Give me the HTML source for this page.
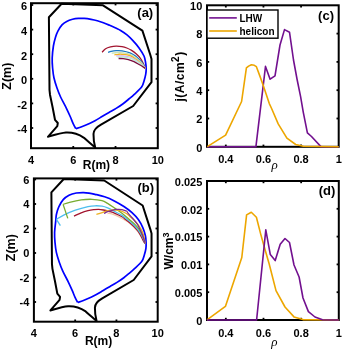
<!DOCTYPE html>
<html><head><meta charset="utf-8"><style>
html,body{margin:0;padding:0;background:#fff;width:342px;height:350px;overflow:hidden;}
svg{display:block;filter:blur(0.3px);font-family:"Liberation Sans",sans-serif;}
</style></head><body>
<svg width="342" height="350" viewBox="0 0 342 350">
<rect width="342" height="350" fill="#fff"/>
<path d="M48.9 17.3 L61.6 3.8 L103 5.3 L142.4 30.6 L150.2 54.5 L151.5 59 L151.5 82.2 L133.2 106 L101 124.6 C97 126.8 93.6 129.5 93.5 134 C93.4 139 94 143 95.2 147.6 C92 144.5 88 141.5 84 137.8 C79 134.5 72 132.3 66 132.6 C61 133 56 134.5 47.9 136.8 L57.3 126.1 L57.8 123 L55 119.8 L52.6 107.3 L50 94.7 L49.5 90 Z" fill="none" stroke="#000" stroke-width="2" stroke-linejoin="round"/>
<path d="M75.9 128.7 C76.87 128.37 79.43 127.57 81.7 126.7 C83.97 125.83 87.28 124.5 89.5 123.5 C91.72 122.5 92.92 121.85 95 120.7 C97.08 119.55 99.67 117.97 102 116.6 C104.33 115.23 106.65 113.87 109 112.5 C111.35 111.13 113.75 109.87 116.1 108.4 C118.45 106.93 120.97 105.27 123.1 103.7 C125.23 102.13 127.03 100.57 128.9 99 C130.77 97.43 132.18 96.28 134.3 94.3 C136.42 92.32 139.97 89.37 141.6 87.1 C143.23 84.83 143.42 82.83 144.1 80.7 C144.78 78.57 145.35 76.23 145.7 74.3 C146.05 72.37 146.22 71.03 146.2 69.1 C146.18 67.17 145.97 64.88 145.6 62.7 C145.23 60.52 145.15 58.55 144 56 C142.85 53.45 140.55 49.97 138.7 47.4 C136.85 44.83 134.85 42.68 132.9 40.6 C130.95 38.52 129.05 36.58 127 34.9 C124.95 33.22 122.48 31.63 120.6 30.5 C118.72 29.37 117.53 28.97 115.7 28.1 C113.87 27.23 111.65 26.2 109.6 25.3 C107.55 24.4 105.45 23.47 103.4 22.7 C101.35 21.93 99.35 21.27 97.3 20.7 C95.25 20.13 93.28 19.68 91.1 19.3 C88.92 18.92 86.32 18.55 84.2 18.4 C82.08 18.25 80.35 18.25 78.4 18.4 C76.45 18.55 74.45 18.8 72.5 19.3 C70.55 19.8 68.45 20.47 66.7 21.4 C64.95 22.33 63.47 23.28 62 24.9 C60.53 26.52 58.98 29.05 57.9 31.1 C56.82 33.15 56.25 34.72 55.5 37.2 C54.75 39.68 53.95 42.53 53.4 46 C52.85 49.47 52.33 54.33 52.2 58 C52.07 61.67 52.3 64.67 52.6 68 C52.9 71.33 53.27 74.67 54 78 C54.73 81.33 55.9 84.83 57 88 C58.1 91.17 59.05 93.65 60.6 97 C62.15 100.35 64.7 104.85 66.3 108.1 C67.9 111.35 69.02 113.82 70.2 116.5 C71.38 119.18 72.45 122.17 73.4 124.2 C74.35 126.23 75.48 127.95 75.9 128.7" fill="none" stroke="#0000ff" stroke-width="1.7"/>
<path d="M102.1 52.2 C102.68 51.62 104.2 49.58 105.6 48.7 C107 47.82 108.75 47.33 110.5 46.9 C112.25 46.47 114.18 46.15 116.1 46.1 C118.02 46.05 120.22 46.28 122 46.6 C123.78 46.92 125.2 47.37 126.8 48 C128.4 48.63 130 49.4 131.6 50.4 C133.2 51.4 134.93 52.67 136.4 54 C137.87 55.33 139.27 56.87 140.4 58.4 C141.53 59.93 142.37 61.53 143.2 63.2 C144.03 64.87 145.03 67.53 145.4 68.4" fill="none" stroke="#a2142f" stroke-width="1.3"/>
<path d="M108.1 52.4 C108.62 52.22 109.87 51.6 111.2 51.3 C112.53 51 114.3 50.68 116.1 50.6 C117.9 50.52 119.68 50.43 122 50.8 C124.32 51.17 127.73 51.93 130 52.8 C132.27 53.67 133.87 54.67 135.6 56 C137.33 57.33 139.1 59.38 140.4 60.8 C141.7 62.22 142.57 63.23 143.4 64.5 C144.23 65.77 145.07 67.75 145.4 68.4" fill="none" stroke="#1a78c2" stroke-width="1.3"/>
<path d="M111.6 53.2 C112.58 53.08 115.57 52.55 117.5 52.5 C119.43 52.45 121.12 52.6 123.2 52.9 C125.28 53.2 127.87 53.45 130 54.3 C132.13 55.15 134.17 56.63 136 58 C137.83 59.37 139.43 60.77 141 62.5 C142.57 64.23 144.67 67.42 145.4 68.4" fill="none" stroke="#c8e4b4" stroke-width="1.3"/>
<path d="M114.4 54.8 C115.03 54.72 116.93 54.38 118.2 54.3 C119.47 54.22 120.03 54.08 122 54.3 C123.97 54.52 127.6 54.72 130 55.6 C132.4 56.48 134.53 58.2 136.4 59.6 C138.27 61 139.7 62.53 141.2 64 C142.7 65.47 144.7 67.67 145.4 68.4" fill="none" stroke="#f2b420" stroke-width="1.3"/>
<path d="M116.1 55.9 C117.28 55.92 120.88 55.82 123.2 56 C125.52 56.18 127.78 56.25 130 57 C132.22 57.75 134.58 59.25 136.5 60.5 C138.42 61.75 140.02 63.18 141.5 64.5 C142.98 65.82 144.75 67.75 145.4 68.4" fill="none" stroke="#d8b0ec" stroke-width="1.3"/>
<path d="M117.5 57.1 C118.45 57.1 121.12 56.92 123.2 57.1 C125.28 57.28 127.7 57.47 130 58.2 C132.3 58.93 135 60.33 137 61.5 C139 62.67 140.6 64.05 142 65.2 C143.4 66.35 144.83 67.87 145.4 68.4" fill="none" stroke="#b8f0d8" stroke-width="1.3"/>
<path d="M118.6 58.5 C119.37 58.53 121.57 58.52 123.2 58.7 C124.83 58.88 126.6 59.12 128.4 59.6 C130.2 60.08 132.13 60.73 134 61.6 C135.87 62.47 137.7 63.67 139.6 64.8 C141.5 65.93 144.43 67.8 145.4 68.4" fill="none" stroke="#7a0c3c" stroke-width="1.3"/>
<path d="M51.38 192.33 L63.78 178.99 L104.2 180.48 L142.66 205.48 L150.28 229.1 L151.55 233.55 L151.55 256.47 L133.68 279.99 L102.24 298.38 C98.34 300.55 95.02 303.22 94.92 307.67 C94.82 312.61 95.41 316.56 96.58 321.11 C93.46 318.04 89.55 315.08 85.65 311.42 C80.76 308.16 73.93 305.99 68.07 306.28 C63.19 306.68 58.31 308.16 50.4 310.43 L59.58 299.86 L60.07 296.8 L57.33 293.63 L54.99 281.28 L52.45 268.83 L51.96 264.18 Z" fill="none" stroke="#000" stroke-width="2" stroke-linejoin="round"/>
<path d="M77.74 302.43 C78.68 302.1 81.19 301.31 83.4 300.45 C85.61 299.6 88.85 298.28 91.02 297.29 C93.18 296.3 94.35 295.66 96.39 294.52 C98.42 293.39 100.94 291.82 103.22 290.47 C105.5 289.12 107.76 287.77 110.05 286.42 C112.35 285.07 114.69 283.82 116.99 282.37 C119.28 280.92 121.74 279.27 123.82 277.72 C125.9 276.17 127.66 274.63 129.48 273.08 C131.31 271.53 132.69 270.39 134.76 268.43 C136.82 266.47 140.29 263.56 141.88 261.32 C143.48 259.08 143.66 257.1 144.32 254.99 C144.99 252.88 145.59 250.73 145.89 248.67 C146.18 246.6 146.18 244.76 146.1 242.6 C146.02 240.44 145.95 238.2 145.4 235.7 C144.85 233.2 143.95 230.27 142.8 227.6 C141.65 224.93 140.3 222.2 138.5 219.7 C136.7 217.2 134.43 214.8 132 212.6 C129.57 210.4 126.85 208.45 123.9 206.5 C120.95 204.55 117.52 202.52 114.3 200.9 C111.08 199.28 107.82 197.9 104.6 196.8 C101.38 195.7 97.6 194.92 95 194.3 C92.4 193.68 90.9 193.38 89 193.1 C87.1 192.82 85.72 192.62 83.6 192.6 C81.48 192.58 78.73 192.57 76.3 193 C73.87 193.43 71.18 194.1 69 195.2 C66.82 196.3 64.9 197.65 63.2 199.6 C61.5 201.55 59.93 204.42 58.8 206.9 C57.67 209.38 56.9 212.2 56.4 214.5 C55.9 216.8 56.07 217.69 55.77 220.7 C55.47 223.71 54.73 228.93 54.6 232.56 C54.47 236.18 54.7 239.15 54.99 242.44 C55.28 245.73 55.64 249.03 56.36 252.32 C57.07 255.62 58.21 259.08 59.28 262.21 C60.36 265.34 61.29 267.79 62.8 271.1 C64.31 274.41 66.8 278.86 68.36 282.07 C69.93 285.28 71.02 287.72 72.17 290.37 C73.33 293.02 74.37 295.97 75.3 297.98 C76.22 299.99 77.33 301.69 77.74 302.43" fill="none" stroke="#0000ff" stroke-width="1.7"/>
<path d="M107.6 213.5 C108.32 213.57 109.5 213.07 111.9 213.9 C114.3 214.73 118.98 216.9 122 218.5 C125.02 220.1 127.5 221.5 130 223.5 C132.5 225.5 135 228.17 137 230.5 C139 232.83 140.68 235.33 142 237.5 C143.32 239.67 144.42 242.5 144.9 243.5" fill="none" stroke="#f4c8a8" stroke-width="1.3"/>
<path d="M74 216.1 C75.2 215.55 78.87 213.7 81.2 212.8 C83.53 211.9 85.93 211.22 88 210.7 C90.07 210.18 91.85 209.93 93.6 209.7 C95.35 209.47 96.87 209.25 98.5 209.3 C100.13 209.35 101.65 209.65 103.4 210 C105.15 210.35 107.07 210.85 109 211.4 C110.93 211.95 112.83 212.4 115 213.3 C117.17 214.2 120.17 215.72 122 216.8 C123.83 217.88 124.67 218.78 126 219.8 C127.33 220.82 128.63 221.73 130 222.9 C131.37 224.07 132.72 225.23 134.2 226.8 C135.68 228.37 137.43 230.07 138.9 232.3 C140.37 234.53 142 238.33 143 240.2 C144 242.07 144.58 242.95 144.9 243.5" fill="none" stroke="#a2142f" stroke-width="1.3"/>
<path d="M60.4 225.6 L56.4 219.3" fill="none" stroke="#4dbeee" stroke-width="1.3"/>
<path d="M56.4 219.3 C57.62 218.6 60.53 216.62 63.7 215.1 C66.87 213.58 71.35 211.6 75.4 210.2 C79.45 208.8 84.73 207.43 88 206.7 C91.27 205.97 92.67 205.88 95 205.8 C97.33 205.72 99.9 205.85 102 206.2 C104.1 206.55 105.43 207 107.6 207.9 C109.77 208.8 112.6 210.35 115 211.6 C117.4 212.85 120.17 214.27 122 215.4 C123.83 216.53 124.33 217.08 126 218.4 C127.67 219.72 130.08 221.53 132 223.3 C133.92 225.07 135.92 227.05 137.5 229 C139.08 230.95 140.42 233.08 141.5 235 C142.58 236.92 143.43 239.08 144 240.5 C144.57 241.92 144.75 243 144.9 243.5" fill="none" stroke="#4dbeee" stroke-width="1.3"/>
<path d="M67.8 218.4 L63.1 204.4" fill="none" stroke="#77ac30" stroke-width="1.3"/>
<path d="M63.1 204.4 C64.17 204.05 66.48 203.05 69.5 202.3 C72.52 201.55 77.45 200.4 81.2 199.9 C84.95 199.4 88.53 199.18 92 199.3 C95.47 199.42 99.4 199.92 102 200.6 C104.6 201.28 105.43 202.1 107.6 203.4 C109.77 204.7 112.6 206.75 115 208.4 C117.4 210.05 119.67 211.48 122 213.3 C124.33 215.12 126.77 217.37 129 219.3 C131.23 221.23 133.65 223.12 135.4 224.9 C137.15 226.68 138.32 228.23 139.5 230 C140.68 231.77 141.72 233.83 142.5 235.5 C143.28 237.17 143.8 238.67 144.2 240 C144.6 241.33 144.78 242.92 144.9 243.5" fill="none" stroke="#77ac30" stroke-width="1.3"/>
<path d="M96.4 214.4 C97.1 214.2 98.85 213.78 100.6 213.2 C102.35 212.62 104.73 211.47 106.9 210.9 C109.07 210.33 111.42 209.85 113.6 209.8 C115.78 209.75 117.88 209.98 120 210.6 C122.12 211.22 124.67 212.53 126.3 213.5 C127.93 214.47 128.28 215.08 129.8 216.4 C131.32 217.72 133.55 219.32 135.4 221.4 C137.25 223.48 139.52 226.52 140.9 228.9 C142.28 231.28 143.07 233.65 143.7 235.7 C144.33 237.75 144.5 239.9 144.7 241.2 C144.9 242.5 144.87 243.12 144.9 243.5" fill="none" stroke="#edb120" stroke-width="1.3"/>
<path d="M104.1 213.5 C104.68 213.18 106.28 212.13 107.6 211.6 C108.92 211.07 110.42 210.67 112 210.3 C113.58 209.93 115.43 209.5 117.1 209.4 C118.77 209.3 120.38 209.4 122 209.7 C123.62 210 126 210.95 126.8 211.2" fill="none" stroke="#7e2f8e" stroke-width="1.3"/>
<path d="M126.8 211.2 C127.03 211.57 127.28 212.27 128.2 213.4 C129.12 214.53 130.78 216.2 132.3 218 C133.82 219.8 136.05 222.37 137.3 224.2 C138.55 226.03 138.93 227.2 139.8 229 C140.67 230.8 141.75 233.08 142.5 235 C143.25 236.92 143.9 239.08 144.3 240.5 C144.7 241.92 144.8 243 144.9 243.5" fill="none" stroke="#7e2f8e" stroke-width="1.3"/>
<g stroke="#000" stroke-width="2.0" fill="none">
<rect x="31" y="3.2" width="126.8" height="145"/>
<rect x="33.9" y="178.4" width="123.8" height="143.3"/>
<rect x="207" y="5.3" width="131.7" height="141.5"/>
<rect x="207" y="181" width="131.8" height="139"/>
</g>
<g stroke="#000" stroke-width="1.8">
<line x1="73.27" y1="148.2" x2="73.27" y2="146"/>
<line x1="73.27" y1="3.2" x2="73.27" y2="5.4"/>
<line x1="115.53" y1="148.2" x2="115.53" y2="146"/>
<line x1="115.53" y1="3.2" x2="115.53" y2="5.4"/>
<line x1="31" y1="128" x2="33.2" y2="128"/>
<line x1="157.8" y1="128" x2="155.6" y2="128"/>
<line x1="31" y1="103.4" x2="33.2" y2="103.4"/>
<line x1="157.8" y1="103.4" x2="155.6" y2="103.4"/>
<line x1="31" y1="78.8" x2="33.2" y2="78.8"/>
<line x1="157.8" y1="78.8" x2="155.6" y2="78.8"/>
<line x1="31" y1="54.2" x2="33.2" y2="54.2"/>
<line x1="157.8" y1="54.2" x2="155.6" y2="54.2"/>
<line x1="31" y1="29.6" x2="33.2" y2="29.6"/>
<line x1="157.8" y1="29.6" x2="155.6" y2="29.6"/>
<line x1="31" y1="5" x2="33.2" y2="5"/>
<line x1="157.8" y1="5" x2="155.6" y2="5"/>
<line x1="75.17" y1="321.7" x2="75.17" y2="319.5"/>
<line x1="75.17" y1="178.4" x2="75.17" y2="180.6"/>
<line x1="116.43" y1="321.7" x2="116.43" y2="319.5"/>
<line x1="116.43" y1="178.4" x2="116.43" y2="180.6"/>
<line x1="33.9" y1="302" x2="36.1" y2="302"/>
<line x1="157.7" y1="302" x2="155.5" y2="302"/>
<line x1="33.9" y1="277.5" x2="36.1" y2="277.5"/>
<line x1="157.7" y1="277.5" x2="155.5" y2="277.5"/>
<line x1="33.9" y1="253" x2="36.1" y2="253"/>
<line x1="157.7" y1="253" x2="155.5" y2="253"/>
<line x1="33.9" y1="228.5" x2="36.1" y2="228.5"/>
<line x1="157.7" y1="228.5" x2="155.5" y2="228.5"/>
<line x1="33.9" y1="204" x2="36.1" y2="204"/>
<line x1="157.7" y1="204" x2="155.5" y2="204"/>
<line x1="33.9" y1="179.5" x2="36.1" y2="179.5"/>
<line x1="157.7" y1="179.5" x2="155.5" y2="179.5"/>
<line x1="225.81" y1="146.8" x2="225.81" y2="144.6"/>
<line x1="225.81" y1="5.3" x2="225.81" y2="7.5"/>
<line x1="263.44" y1="146.8" x2="263.44" y2="144.6"/>
<line x1="263.44" y1="5.3" x2="263.44" y2="7.5"/>
<line x1="301.07" y1="146.8" x2="301.07" y2="144.6"/>
<line x1="301.07" y1="5.3" x2="301.07" y2="7.5"/>
<line x1="207" y1="118.5" x2="209.2" y2="118.5"/>
<line x1="338.7" y1="118.5" x2="336.5" y2="118.5"/>
<line x1="207" y1="90.2" x2="209.2" y2="90.2"/>
<line x1="338.7" y1="90.2" x2="336.5" y2="90.2"/>
<line x1="207" y1="61.9" x2="209.2" y2="61.9"/>
<line x1="338.7" y1="61.9" x2="336.5" y2="61.9"/>
<line x1="207" y1="33.6" x2="209.2" y2="33.6"/>
<line x1="338.7" y1="33.6" x2="336.5" y2="33.6"/>
<line x1="225.83" y1="320" x2="225.83" y2="317.8"/>
<line x1="225.83" y1="181" x2="225.83" y2="183.2"/>
<line x1="263.49" y1="320" x2="263.49" y2="317.8"/>
<line x1="263.49" y1="181" x2="263.49" y2="183.2"/>
<line x1="301.14" y1="320" x2="301.14" y2="317.8"/>
<line x1="301.14" y1="181" x2="301.14" y2="183.2"/>
<line x1="207" y1="292.2" x2="209.2" y2="292.2"/>
<line x1="338.8" y1="292.2" x2="336.6" y2="292.2"/>
<line x1="207" y1="264.4" x2="209.2" y2="264.4"/>
<line x1="338.8" y1="264.4" x2="336.6" y2="264.4"/>
<line x1="207" y1="236.6" x2="209.2" y2="236.6"/>
<line x1="338.8" y1="236.6" x2="336.6" y2="236.6"/>
<line x1="207" y1="208.8" x2="209.2" y2="208.8"/>
<line x1="338.8" y1="208.8" x2="336.6" y2="208.8"/>
</g>
<path d="M207 146.8 L255.9 146.8 L265.5 66.4 L270.1 79.2 L275 75.8 L280 45 L284.5 29.6 L289.5 32.2 L293.5 60 L297.1 79.5 L300.6 96.6 L303.3 112.3 L307.4 132.8 L311.5 136.5 L320.9 146.6 L338.7 146.8" fill="none" stroke="#72108f" stroke-width="1.6" stroke-linejoin="round"/>
<path d="M207.3 146.6 L225.6 135.1 L241.6 101.5 L246.4 67.9 L248.6 66.1 L251.4 64.7 L254.3 65.3 L256.4 66.7 L260 76.4 L263.6 86.4 L269.3 103.6 L271.6 108.5 L278.2 123.9 L286.9 138.1 L295.7 144.5 L303.4 146.3 L338.7 146.8" fill="none" stroke="#eda600" stroke-width="1.6" stroke-linejoin="round"/>
<path d="M207 319.8 L225.4 306.4 L241.8 257.5 L246.6 214.9 L251.3 212.2 L256.4 217.3 L260.7 234.1 L265 249.5 L269.2 264 L276 290.6 L285 307 L294 316.9 L303 319.6 L338.8 320" fill="none" stroke="#eda600" stroke-width="1.6" stroke-linejoin="round"/>
<path d="M207 320 L256.6 320 L265.8 229.8 L270.3 254.6 L275.2 260.6 L280.2 244.3 L285 238.5 L289.5 242.5 L294 265 L299.1 277 L303 298 L308.4 311.6 L315 317 L322.5 319.8 L338.8 320" fill="none" stroke="#72108f" stroke-width="1.6" stroke-linejoin="round"/>
<rect x="207" y="10" width="71" height="28.2" fill="#fff" stroke="#000" stroke-width="1.4"/>
<line x1="209.2" y1="17.9" x2="236.8" y2="17.9" stroke="#72108f" stroke-width="1.6"/>
<line x1="209.2" y1="31" x2="236.8" y2="31" stroke="#eda600" stroke-width="1.6"/>
<g font-family="Liberation Sans, sans-serif" font-weight="bold" fill="#000">
<text x="239.5" y="21.6" font-size="10" text-anchor="start" >LHW</text>
<text x="239.5" y="35.3" font-size="10" text-anchor="start" >helicon</text>
<text x="153.2" y="17" font-size="13" text-anchor="end" >(a)</text>
<text x="154" y="192" font-size="13" text-anchor="end" >(b)</text>
<text x="334" y="20.2" font-size="13" text-anchor="end" >(c)</text>
<text x="335.4" y="194.9" font-size="13" text-anchor="end" >(d)</text>
<text x="27" y="10.3" font-size="11" text-anchor="end" >6</text>
<text x="27" y="34.9" font-size="11" text-anchor="end" >4</text>
<text x="27" y="59.5" font-size="11" text-anchor="end" >2</text>
<text x="27" y="84.1" font-size="11" text-anchor="end" >0</text>
<text x="27" y="108.7" font-size="11" text-anchor="end" >-2</text>
<text x="27" y="133.3" font-size="11" text-anchor="end" >-4</text>
<text x="31" y="164.3" font-size="11" text-anchor="middle" >4</text>
<text x="73.27" y="164.3" font-size="11" text-anchor="middle" >6</text>
<text x="115.53" y="164.3" font-size="11" text-anchor="middle" >8</text>
<text x="157.8" y="164.3" font-size="11" text-anchor="middle" >10</text>
<text x="29.3" y="183.8" font-size="11" text-anchor="end" >6</text>
<text x="29.3" y="208.3" font-size="11" text-anchor="end" >4</text>
<text x="29.3" y="232.8" font-size="11" text-anchor="end" >2</text>
<text x="29.3" y="257.3" font-size="11" text-anchor="end" >0</text>
<text x="29.3" y="281.8" font-size="11" text-anchor="end" >-2</text>
<text x="29.3" y="306.3" font-size="11" text-anchor="end" >-4</text>
<text x="33.9" y="337.3" font-size="11" text-anchor="middle" >4</text>
<text x="75.17" y="337.3" font-size="11" text-anchor="middle" >6</text>
<text x="116.43" y="337.3" font-size="11" text-anchor="middle" >8</text>
<text x="157.7" y="337.3" font-size="11" text-anchor="middle" >10</text>
<text x="96.4" y="168.6" font-size="12" text-anchor="middle" >R(m)</text>
<text x="98.6" y="345" font-size="12" text-anchor="middle" >R(m)</text>
<text transform="translate(10.5,76.2) rotate(-90)" font-size="12.5" text-anchor="middle">Z(m)</text>
<text transform="translate(15,247.7) rotate(-90)" font-size="12.5" text-anchor="middle">Z(m)</text>
<text x="202.3" y="151.6" font-size="11" text-anchor="end" >0</text>
<text x="202.3" y="123.3" font-size="11" text-anchor="end" >2</text>
<text x="202.3" y="95" font-size="11" text-anchor="end" >4</text>
<text x="202.3" y="66.7" font-size="11" text-anchor="end" >6</text>
<text x="202.3" y="38.4" font-size="11" text-anchor="end" >8</text>
<text x="202.3" y="10.1" font-size="11" text-anchor="end" >10</text>
<text x="225.81" y="163.1" font-size="11" text-anchor="middle" >0.4</text>
<text x="263.44" y="163.1" font-size="11" text-anchor="middle" >0.6</text>
<text x="301.07" y="163.1" font-size="11" text-anchor="middle" >0.8</text>
<text x="338.7" y="163.1" font-size="11" text-anchor="middle" >1</text>
<text x="202.3" y="324.8" font-size="11" text-anchor="end" >0</text>
<text x="202.3" y="297" font-size="11" text-anchor="end" >0.005</text>
<text x="202.3" y="269.2" font-size="11" text-anchor="end" >0.01</text>
<text x="202.3" y="241.4" font-size="11" text-anchor="end" >0.015</text>
<text x="202.3" y="213.6" font-size="11" text-anchor="end" >0.02</text>
<text x="202.3" y="185.8" font-size="11" text-anchor="end" >0.025</text>
<text x="225.83" y="336.8" font-size="11" text-anchor="middle" >0.4</text>
<text x="263.49" y="336.8" font-size="11" text-anchor="middle" >0.6</text>
<text x="301.14" y="336.8" font-size="11" text-anchor="middle" >0.8</text>
<text x="338.8" y="336.8" font-size="11" text-anchor="middle" >1</text>
<text transform="translate(184,101.6) rotate(-90)" font-size="12" letter-spacing="0.5" text-anchor="start">j(A/cm<tspan dy="-5" font-size="10">2</tspan><tspan dy="5">)</tspan></text>
<text transform="translate(173,251) rotate(-90)" font-size="12" text-anchor="middle">W/cm<tspan dy="-4" font-size="9">3</tspan></text>
</g>
<text x="274.7" y="168.9" font-family="Liberation Serif, serif" font-style="italic" font-size="13" text-anchor="middle">&#961;</text>
<text x="274.3" y="345.5" font-family="Liberation Serif, serif" font-style="italic" font-size="13" text-anchor="middle">&#961;</text>
</svg>
</body></html>
